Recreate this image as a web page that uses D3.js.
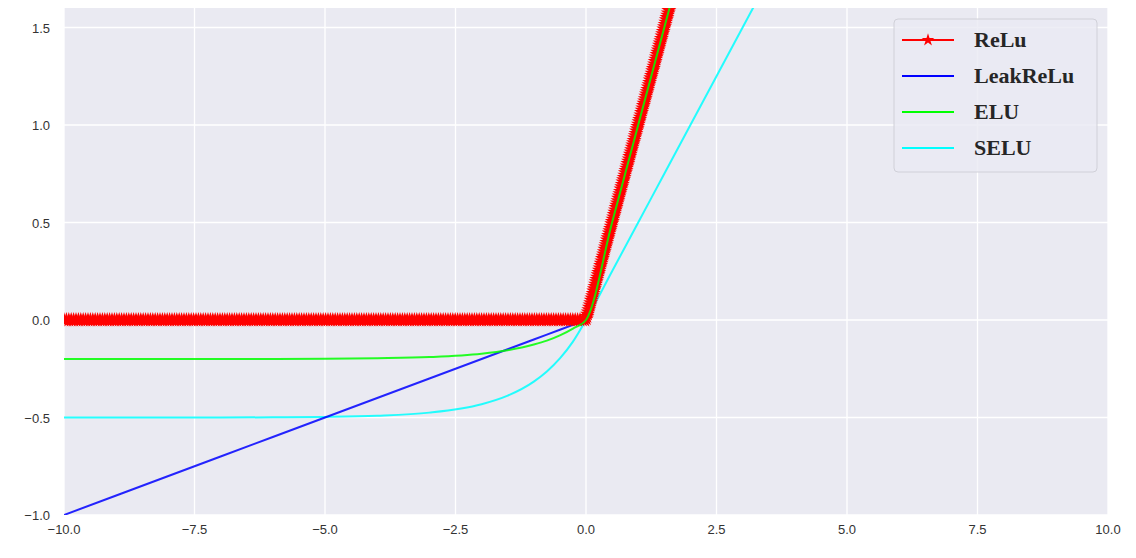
<!DOCTYPE html>
<html><head><meta charset="utf-8">
<script src="https://cdn.jsdelivr.net/npm/d3@7"></script>
<style>body{margin:0;background:#fff}</style>
</head><body><svg id="chart" width="1136" height="558"></svg>
<script>
const xs = [-10, -9, -8, -7, -6, -5, -4, -3, -2, -1.5, -1, -0.75, -0.5, -0.25, 0, 0.5, 1, 1.5, 2, 2.5, 3, 3.5];
const relu = [0, 0, 0, 0, 0, 0, 0, 0, 0, 0, 0, 0, 0, 0, 0, 0.5, 1, 1.5, 2, 2.5, 3, 3.5];
const leaky = [-1, -0.9, -0.8, -0.7, -0.6, -0.5, -0.4, -0.3, -0.2, -0.15, -0.1, -0.075, -0.05, -0.025, 0, 0.5, 1, 1.5, 2, 2.5, 3, 3.5];
const elu = [-0.2, -0.2, -0.2, -0.2, -0.2, -0.199, -0.196, -0.19, -0.173, -0.155, -0.126, -0.106, -0.079, -0.044, 0, 0.5, 1, 1.5, 2, 2.5, 3, 3.5];
const selu = [-0.5, -0.5, -0.5, -0.5, -0.499, -0.497, -0.491, -0.475, -0.432, -0.388, -0.316, -0.264, -0.197, -0.111, 0, 0.25, 0.5, 0.75, 1, 1.25, 1.5, 1.75];
const names = ["ReLu", "LeakReLu", "ELU", "SELU"];
const colors = ["#ff0000", "#0000ff", "#00ff00", "#00ffff"];
const xTicks = [-10, -7.5, -5, -2.5, 0, 2.5, 5, 7.5, 10];
const yTicks = [-1, -0.5, 0, 0.5, 1, 1.5];

const svg = d3.select("#chart");
const m = {left: 64, right: 1108, top: 8, bottom: 515};
const x = d3.scaleLinear().domain([-10, 10]).range([m.left, m.right]);
const y = d3.scaleLinear().domain([-1, 1.6]).range([m.bottom, m.top]);

svg.append("rect").attr("x", m.left).attr("y", m.top)
    .attr("width", m.right - m.left).attr("height", m.bottom - m.top).attr("fill", "#eaeaf2");
svg.append("clipPath").attr("id", "clip").append("rect")
    .attr("x", m.left).attr("y", m.top).attr("width", m.right - m.left).attr("height", m.bottom - m.top);

// grid
svg.append("g").selectAll("line").data(xTicks).join("line")
    .attr("x1", d => x(d)).attr("x2", d => x(d)).attr("y1", m.top).attr("y2", m.bottom)
    .attr("stroke", "#fff").attr("stroke-width", 1.3);
svg.append("g").selectAll("line").data(yTicks).join("line")
    .attr("x1", m.left).attr("x2", m.right).attr("y1", d => y(d)).attr("y2", d => y(d))
    .attr("stroke", "#fff").attr("stroke-width", 1.3);

// tick labels
const fmt = d => (d < 0 ? "\u2212" : "") + Math.abs(d).toFixed(1);
svg.append("g").selectAll("text").data(xTicks).join("text")
    .attr("x", d => x(d)).attr("y", m.bottom + 19).attr("text-anchor", "middle")
    .attr("font-family", "Liberation Sans, Arial").attr("font-size", 13).attr("fill", "#333").text(fmt);
svg.append("g").selectAll("text").data(yTicks).join("text")
    .attr("x", m.left - 14).attr("y", d => y(d) + 5).attr("text-anchor", "end")
    .attr("font-family", "Liberation Sans, Arial").attr("font-size", 13).attr("fill", "#333").text(fmt);

const series = [relu, leaky, elu, selu];
const smooth = d3.line().x(d => x(d[0])).y(d => y(d[1])).curve(d3.curveMonotoneX);
const straight = d3.line().x(d => x(d[0])).y(d => y(d[1]));
const plot = svg.append("g").attr("clip-path", "url(#clip)");

// draw in order so green and red overlay correctly
[3, 1, 0, 2].forEach(i => {
    const pts = xs.map((v, j) => [v, series[i][j]]);
    const gen = i < 2 ? straight : smooth;
    const p = plot.append("path").datum(pts).attr("d", gen)
        .attr("fill", "none").attr("stroke", colors[i]).attr("stroke-width", 2).attr("opacity", 0.85);
    if (i === 0) {
        // dense star markers along the ReLU line
        const node = p.node(), L = node.getTotalLength();
        const star = d3.symbol().type(d3.symbolStar).size(70)();
        for (let s = 0; s <= L; s += 2.4) {
            const pt = node.getPointAtLength(s);
            if (pt.y < m.top - 6) break;
            plot.append("path").attr("d", star)
                .attr("transform", `translate(${pt.x},${pt.y})`).attr("fill", colors[0]);
        }
    }
});

// legend
const lg = svg.append("g").attr("transform", "translate(894,19)");
lg.append("rect").attr("width", 203).attr("height", 153).attr("rx", 4)
    .attr("fill", "#eaeaf2").attr("fill-opacity", 0.8).attr("stroke", "#d0d0d8");
names.forEach((n, i) => {
    const yy = 21 + i * 36;
    lg.append("line").attr("x1", 8).attr("x2", 60).attr("y1", yy).attr("y2", yy)
        .attr("stroke", colors[i]).attr("stroke-width", 2);
    if (i === 0) lg.append("path").attr("d", d3.symbol().type(d3.symbolStar).size(50)())
        .attr("transform", `translate(34,${yy})`).attr("fill", colors[0]);
    lg.append("text").attr("x", 80).attr("y", yy + 7).text(n)
        .attr("font-family", "Liberation Serif, Times New Roman").attr("font-weight", "bold")
        .attr("font-size", 22).attr("fill", "#262626");
});
</script></body></html>
